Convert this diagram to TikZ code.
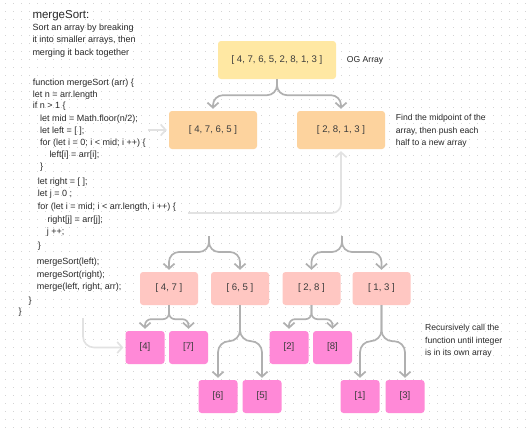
\documentclass[tikz,border=0pt]{standalone}
\usepackage{fontspec}
\setmainfont{Liberation Sans}
\usetikzlibrary{arrows.meta}
\definecolor{ogfill}{RGB}{255,232,163}
\definecolor{lvtwo}{RGB}{253,211,158}
\definecolor{lvthree}{RGB}{255,199,194}
\definecolor{leaffill}{RGB}{255,137,215}
\definecolor{arrowgray}{RGB}{176,176,176}
\definecolor{lightline}{RGB}{226,226,226}
\definecolor{dotgray}{RGB}{212,212,212}
\definecolor{codetext}{RGB}{40,40,40}
\definecolor{boxtext}{RGB}{60,60,60}
\begin{document}
\begin{tikzpicture}[x=1pt,y=-1pt,
  box/.style={rounded corners=3pt, inner sep=0pt, text=boxtext, font=\fontsize{9.6}{11}\selectfont},
  midbox/.style={box, minimum width=88pt, minimum height=38pt, fill=lvtwo},
  pairbox/.style={box, minimum width=58pt, minimum height=33pt, fill=lvthree},
  leafbox/.style={box, minimum width=39pt, minimum height=33pt, fill=leaffill},
  code/.style={anchor=base west, inner sep=0pt, font=\fontsize{9}{11}\selectfont, text=codetext},
  note/.style={anchor=west, inner sep=0pt, align=left, font=\fontsize{8.6}{12.6}\selectfont, text=codetext},
  garrow/.style={draw=arrowgray, line width=1.7pt, -{Straight Barb[length=5pt,width=11pt]}, shorten >=2pt},
  larrow/.style={draw=lightline, line width=1.6pt, -{Straight Barb[length=5pt,width=11pt]}, shorten >=2pt},
  dotrow/.style={draw=dotgray, line width=1pt, dash pattern=on 1pt off 7pt, dash phase=3pt}]
\useasboundingbox (0,0) rectangle (528,431);
\fill[white] (0,0) rectangle (528,431);
\foreach \k in {0,...,53} \draw[dotrow] (0,3+8*\k) -- (528,3+8*\k);

% boxes
\node[box, fill=ogfill, minimum width=118pt, minimum height=38pt] (og) at (277,60) {[ 4, 7, 6, 5, 2, 8, 1, 3 ]};
\node[midbox] (a) at (213,130) {[ 4, 7, 6, 5 ]};
\node[midbox] (b) at (341,130) {[ 2, 8, 1, 3 ]};
\node[pairbox] (r1) at (169,288.5) {[ 4, 7 ]};
\node[pairbox] (r2) at (240,288.5) {[ 6, 5 ]};
\node[pairbox] (r3) at (311.5,288.5) {[ 2, 8 ]};
\node[pairbox] (r4) at (381.5,288.5) {[ 1, 3 ]};
\node[leafbox] (n4) at (145,347.5) {[4]};
\node[leafbox] (n7) at (188.5,347.5) {[7]};
\node[leafbox] (n2) at (289,347.5) {[2]};
\node[leafbox] (n8) at (332.5,347.5) {[8]};
\node[leafbox] (n6) at (218,396.5) {[6]};
\node[leafbox] (n5) at (262,396.5) {[5]};
\node[leafbox] (n1) at (360,396.5) {[1]};
\node[leafbox] (n3) at (405,396.5) {[3]};

% free ends
\coordinate (t1) at (209,236);
\coordinate (t2) at (342,236);
\coordinate (l1) at (148,130);
\coordinate (l2) at (188,213);
\coordinate (l3) at (83,318);

% gray branch arrows
\draw[garrow, rounded corners=10pt] (og.south) -- ++(0,16) -| (a.north);
\draw[garrow, rounded corners=10pt] (og.south) -- ++(0,16) -| (b.north);
\draw[garrow, rounded corners=10pt] (t1) -- ++(0,16) -| (r1.north);
\draw[garrow, rounded corners=10pt] (t1) -- ++(0,16) -| (r2.north);
\draw[garrow, rounded corners=10pt] (t2) -- ++(0,16) -| (r3.north);
\draw[garrow, rounded corners=10pt] (t2) -- ++(0,16) -| (r4.north);
\draw[garrow, rounded corners=6pt] (r1.south) -- ++(0,14) -| (n4.north);
\draw[garrow, rounded corners=6pt] (r1.south) -- ++(0,14) -| (n7.north);
\draw[garrow, rounded corners=6pt] (r3.south) -- ++(0,14) -| (n2.north);
\draw[garrow, rounded corners=6pt] (r3.south) -- ++(0,14) -| (n8.north);
\draw[garrow, rounded corners=11pt] (r2.south) -- ++(0,36) -| (n6.north);
\draw[garrow, rounded corners=11pt] (r2.south) -- ++(0,36) -| (n5.north);
\draw[garrow, rounded corners=11pt] (r4.south) -- ++(0,36) -| (n1.north);
\draw[garrow, rounded corners=11pt] (r4.south) -- ++(0,36) -| (n3.north);

% light connectors
\draw[larrow] (l1) -- (a.west);
\draw[larrow, rounded corners=9pt] (l2) -| (b.south);
\draw[larrow, rounded corners=11pt] (l3) |- (n4.west);

% notes
\node[note] (ognote) at (346.7,60) {OG Array};
\node[note] (midnote) at (395.7,131) {Find the midpoint of the\\array, then push each\\half to a new array};
\node[note] (recnote) at (425,341) {Recursively call the\\function until integer\\is in its own array};

% title and description
\node[anchor=base west, inner sep=0pt, font=\fontsize{11.5}{13}\selectfont, text=codetext] (title) at (32.3,19) {mergeSort:};
\node[note, font=\fontsize{9}{12.5}\selectfont] (desc) at (32.3,40.5) {Sort an array by breaking\\it into smaller arrays, then\\merging it back together};

% code
\node[code] (c1) at (32.7,85.9) {function mergeSort (arr) \{};
\node[code] (c2) at (32.7,97.5) {let n = arr.length};
\node[code] (c3) at (32.7,108.9) {if n > 1 \{};
\node[code] (c4) at (40,121.9) {let mid = Math.floor(n/2);};
\node[code] (c5) at (40,133.5) {let left = [ ];};
\node[code] (c6) at (40,145.5) {for (let i = 0; i < mid; i ++) \{};
\node[code] (c7) at (49.3,157.9) {left[i] = arr[i];};
\node[code] (c8) at (40,169.9) {\}};
\node[code] (c9) at (37.7,184.9) {let right = [ ];};
\node[code] (c10) at (37.7,196.5) {let j = 0 ;};
\node[code] (c11) at (37.7,209.2) {for (let i = mid; i < arr.length, i ++) \{};
\node[code] (c12) at (47.3,222.5) {right[j] = arr[j];};
\node[code] (c13) at (46.7,234.2) {j ++;};
\node[code] (c14) at (37.7,248.2) {\}};
\node[code] (c15) at (36.7,264.9) {mergeSort(left);};
\node[code] (c16) at (36.7,277.2) {mergeSort(right);};
\node[code] (c17) at (36.7,289.9) {merge(left, right, arr);};
\node[code] (c18) at (28.3,303.2) {\}};
\node[code] (c19) at (18.3,314.9) {\}};
\end{tikzpicture}
\end{document}
